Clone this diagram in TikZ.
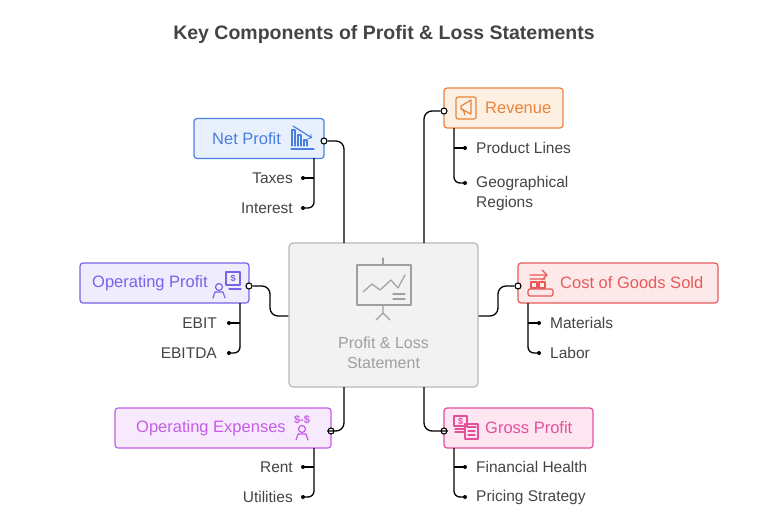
\documentclass[tikz,border=0pt]{standalone}
\usepackage{fontspec}
\setmainfont{Liberation Sans}
\usetikzlibrary{calc}
\definecolor{cblue}{HTML}{4A7FE0}\definecolor{fblue}{HTML}{E8F0FE}
\definecolor{corange}{HTML}{E8833A}\definecolor{forange}{HTML}{FDF0E3}
\definecolor{cindigo}{HTML}{7B61E8}\definecolor{findigo}{HTML}{EFEDFD}
\definecolor{cred}{HTML}{E85A5A}\definecolor{fred}{HTML}{FDE9E9}
\definecolor{cviolet}{HTML}{C55CE8}\definecolor{fviolet}{HTML}{F8EAFD}
\definecolor{cpink}{HTML}{E2509A}\definecolor{fpink}{HTML}{FDE6F1}
\definecolor{cgray}{HTML}{B8B8B8}\definecolor{fgray}{HTML}{F2F2F2}
\definecolor{tgray}{HTML}{A0A0A0}\definecolor{ttext}{HTML}{444444}
\tikzset{
 cat/.style={draw=#1, line width=1.2pt, rounded corners=3pt, minimum height=40pt, inner sep=0pt},
 sub/.style={text=ttext, font=\fontsize{15.5}{18}\selectfont, inner sep=0pt},
 conn/.style={line width=1.3pt, rounded corners=8pt},
 brl/.style={line width=1.3pt, rounded corners=6pt},
 odot/.style={circle, draw=black, fill=white, line width=1.1pt, inner sep=0pt, minimum size=6pt},
 bdot/.style={circle, fill=black, inner sep=0pt, minimum size=4pt},
 lab/.style={font=\fontsize{16.5}{18}\selectfont, inner sep=0pt, anchor=west},
 ic/.style={line width=1.2pt, line cap=round, line join=round}
}
\begin{document}
\begin{tikzpicture}[x=1pt,y=-1pt]
\useasboundingbox (0,0) rectangle (768,525);
\node[font=\bfseries\fontsize{19.5}{22}\selectfont, text=ttext] (title) at (384,34) {Key Components of Profit \& Loss Statements};
% center
\node[draw=cgray, fill=fgray, line width=1.2pt, rounded corners=4pt, minimum width=189pt, minimum height=144pt, inner sep=0pt] (c) at (383.5,315) {};
\node[text=tgray, align=center, font=\fontsize{16}{20}\selectfont] (ct) at (383.5,353) {Profit \& Loss\\Statement};
\begin{scope}[ic, draw=tgray]
\draw (383,258) -- (383,265);
\draw (357,265) rectangle (411,305);
\draw (363,292) -- (372,284) -- (380,290) -- (391,280) -- (398,288) -- (405,275);
\draw (393,294) -- (405,294) (393,299) -- (405,299);
\draw (383,305) -- (383,313) (376,320) -- (383,313) -- (390,320);
\end{scope}
% boxes
\node[cat=cblue, fill=fblue, minimum width=130pt] (np) at (259,138.5) {};
\node[cat=corange, fill=forange, minimum width=119pt] (rv) at (503.5,108) {};
\node[cat=cindigo, fill=findigo, minimum width=169pt] (op) at (164.5,283) {};
\node[cat=cred, fill=fred, minimum width=200pt] (cg) at (618,283) {};
\node[cat=cviolet, fill=fviolet, minimum width=216pt] (ox) at (223,428) {};
\node[cat=cpink, fill=fpink, minimum width=149pt] (gp) at (518.5,428) {};
\node[lab, text=cblue] at (212,138.5) {Net Profit};
\node[lab, text=corange] at (485,108) {Revenue};
\node[lab, text=cindigo] at (92,283) {Operating Profit};
\node[lab, text=cred] at (560,283) {Cost of Goods Sold};
\node[lab, text=cviolet] at (136,428) {Operating Expenses};
\node[lab, text=cpink] at (485,428) {Gross Profit};
% icons
\begin{scope}[ic, draw=cblue]
\draw (291,149) -- (314,149);
\draw (292,146) -- (292,130) -- (295,130) -- (295,146) (298,146) -- (298,135) -- (301,135) -- (301,146) (304,146)--(304,140)--(307,140)--(307,146);
\draw[->] (293,126) -- (312,138);
\end{scope}
\begin{scope}[ic, draw=corange]
\draw[rounded corners=2pt] (456,97) rectangle (476,119);
\draw (461,106) -- (471,100) -- (471,114) -- (461,109) -- cycle (463,109) -- (465,115);
\end{scope}
\begin{scope}[ic, draw=cindigo]
\draw (226,272) rectangle (240,285); \node[text=cindigo, font=\fontsize{9}{9}\selectfont\bfseries, inner sep=0] (d1) at (233,278.5) {\$};
\draw (229,289) -- (241,289);
\draw (219,287) circle (3.5);
\draw (213,298) -- (215,292) -- (223,292) -- (225,298);
\end{scope}
\begin{scope}[ic, draw=cred]
\draw (530,275) -- (547,275) (542,270) -- (547,275) -- (542,280) (530,279) -- (545,279);
\draw (531,282) rectangle (537,288) (539,282) rectangle (545,288);
\draw[rounded corners=2pt] (528,289) rectangle (553,296);
\end{scope}
\begin{scope}[ic, draw=cviolet]
\node[text=cviolet, font=\fontsize{11}{11}\selectfont\bfseries, inner sep=0] (dd) at (302,420) {\$-\$};
\draw (302,429) circle (3.5);
\draw (296,440) -- (298,434) -- (306,434) -- (308,440);
\end{scope}
\begin{scope}[ic, draw=cpink]
\draw (454,416) rectangle (467,426); \node[text=cpink, font=\fontsize{9}{9}\selectfont\bfseries, inner sep=0] (d2) at (460.5,421) {\$};
\draw (455,429) -- (464,429) (455,432) -- (464,432);
\draw (465,424) rectangle (478,439);
\draw (467,427) -- (476,427) (468,431) -- (475,431) (468,435) -- (475,435);
\end{scope}
% connectors
\node[odot] (npd) at (324,141) {};
\node[odot] (rvd) at (444,111) {};
\node[odot] (opd) at (249,286) {};
\node[odot] (cgd) at (518,286) {};
\node[odot] (oxd) at (331,431) {};
\node[odot] (gpd) at (444,431) {};
\draw[conn] (npd.east) -| (344,243);
\draw[conn] (rvd.west) -| (424,243);
\draw[conn] (opd.east) -- (270,286) -- (270,316) -- (c.west |- 0,316);
\draw[conn] (cgd.west) -- (498,286) -- (498,316) -- (c.east |- 0,316);
\draw[conn] (344,387) |- (oxd.west);
\draw[conn] (424,387) |- (gpd.east);
% Net profit
\draw[brl] (314,158) -- (314,208) -- (303,208); \draw[line width=1.3pt] (314,178) -- (303,178);
\node[bdot] at (303,178) {}; \node[bdot] at (303,208) {};
\node[sub, anchor=east] (t1) at (293,178) {Taxes};
\node[sub, anchor=east] (t2) at (293,208) {Interest};
% Revenue
\draw[brl] (454,128) -- (454,183) -- (465,183); \draw[line width=1.3pt] (454,148) -- (465,148);
\node[bdot] at (465,148) {}; \node[bdot] at (465,183) {};
\node[sub, anchor=west] (t3) at (476,148) {Product Lines};
\node[sub, anchor=west, align=left] (t4) at (476,193) {Geographical\\[2pt]Regions};
% Op profit
\draw[brl] (240,303) -- (240,353) -- (229,353); \draw[line width=1.3pt] (240,323) -- (229,323);
\node[bdot] at (229,323) {}; \node[bdot] at (229,353) {};
\node[sub, anchor=east] (t5) at (217,323) {EBIT};
\node[sub, anchor=east] (t6) at (217,353) {EBITDA};
% COGS
\draw[brl] (528,303) -- (528,353) -- (539,353); \draw[line width=1.3pt] (528,323) -- (539,323);
\node[bdot] at (539,323) {}; \node[bdot] at (539,353) {};
\node[sub, anchor=west] (t7) at (550,323) {Materials};
\node[sub, anchor=west] (t8) at (550,353) {Labor};
% OpEx
\draw[brl] (314,448) -- (314,497) -- (303,497); \draw[line width=1.3pt] (314,467) -- (303,467);
\node[bdot] at (303,467) {}; \node[bdot] at (303,497) {};
\node[sub, anchor=east] (t9) at (293,467) {Rent};
\node[sub, anchor=east] (t10) at (293,497) {Utilities};
% Gross
\draw[brl] (454,448) -- (454,497) -- (465,497); \draw[line width=1.3pt] (454,467) -- (465,467);
\node[bdot] at (465,467) {}; \node[bdot] at (465,497) {};
\node[sub, anchor=west] (t11) at (476,467) {Financial Health};
\node[sub, anchor=west] (t12) at (476,497) {Pricing Strategy};
\end{tikzpicture}
\end{document}
